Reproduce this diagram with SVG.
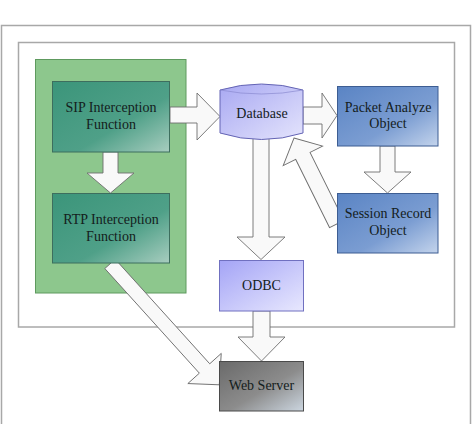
<svg xmlns="http://www.w3.org/2000/svg" width="474" height="424" viewBox="0 0 474 424">
<style>
.frame{fill:none;stroke:#a8a8a8;stroke-width:1.5}
.arrow{fill:#f9f9f9;stroke:#6e6e6e;stroke-width:0.9;stroke-linejoin:miter}
.lbl{font-family:"Liberation Serif","Times New Roman",serif;font-size:14px;fill:#14201c;text-anchor:middle}
.green{fill:url(#gTeal);stroke:#3d6e5e;stroke-width:1}
.blue{fill:url(#gBlue);stroke:#3d5d92;stroke-width:1}
</style>
<defs>
<linearGradient id="gTeal" x1="0" y1="0" x2="1" y2="1">
<stop offset="0" stop-color="#3b957a"/>
<stop offset="0.6" stop-color="#4fa088"/>
<stop offset="1" stop-color="#a8cdbf"/>
</linearGradient>
<linearGradient id="gBlue" x1="0" y1="0" x2="1" y2="1">
<stop offset="0" stop-color="#5a84c4"/>
<stop offset="0.6" stop-color="#7b9dd2"/>
<stop offset="1" stop-color="#c4d4ec"/>
</linearGradient>
<linearGradient id="gLav" x1="0" y1="0" x2="1" y2="1">
<stop offset="0" stop-color="#a8a8f2"/>
<stop offset="1" stop-color="#e4e4fc"/>
</linearGradient>
<linearGradient id="gOdbc" x1="0" y1="0" x2="1" y2="1">
<stop offset="0" stop-color="#a4a4f6"/>
<stop offset="1" stop-color="#e8e8fe"/>
</linearGradient>
<linearGradient id="gGray" x1="0" y1="0" x2="1" y2="1">
<stop offset="0" stop-color="#6a6a6a"/>
<stop offset="0.55" stop-color="#8c8c8c"/>
<stop offset="1" stop-color="#ccd6e0"/>
</linearGradient>
</defs>
<rect x="0" y="0" width="474" height="424" fill="#ffffff"/>
<path class="frame" d="M1.5,430 V25.5 H470.5 V430"/>
<rect class="frame" x="18.5" y="42.5" width="436" height="284.5"/>
<g id="container">
<rect x="35.5" y="59.5" width="150.5" height="233.5" fill="#8dc78d" stroke="#5e9a5e" stroke-width="1"/>
</g>
<g id="connectors">
<polygon class="arrow" points="170,107 197,107 197,93 220,116.5 197,140 197,123 170,123"/>
<polygon class="arrow" points="103,152 118,152 118,173 134,173 110.5,193 87,173 103,173"/>
<polygon class="arrow" points="303,107 322,107 322,93 337,115.5 322,138 322,124 303,124"/>
<polygon class="arrow" points="253,136 269,136 269,237 285,237 261,259.5 237,237 253,237"/>
<polygon class="arrow" points="380,146 395,146 395,172 411,172 387.5,193 364,172 380,172"/>
<polygon class="arrow" points="253,311 270,311 270,337 285,337 261.5,361 238,337 253,337"/>
<g transform="translate(294,138) rotate(-26.4)">
<polygon class="arrow" points="0,0 22,20 8,20 8,96 -8,96 -8,20 -22,20"/>
</g>
<g transform="translate(219.3,384.8) rotate(137.9)">
<polygon class="arrow" points="0,0 22.5,22 7,22 7,163 -7,163 -7,22 -22.5,22"/>
</g>
</g>
<g id="sip">
<rect class="green" x="52.5" y="81.5" width="117" height="70.5"/>
<text class="lbl" x="111" y="112">SIP Interception</text>
<text class="lbl" x="111" y="129">Function</text>
</g>
<g id="rtp">
<rect class="green" x="52.5" y="193.5" width="117" height="69.5"/>
<text class="lbl" x="111" y="224">RTP Interception</text>
<text class="lbl" x="111" y="241">Function</text>
</g>
<g id="database">
<path d="M220,90 Q261.5,78 303,90 V133 Q261.5,146 220,133 Z" fill="url(#gLav)" stroke="#6464b4" stroke-width="1"/>
<path d="M220,90 Q261.5,98 303,90" fill="none" stroke="#8a8ad0" stroke-width="0.7"/>
<text class="lbl" x="262" y="118">Database</text>
</g>
<g id="packet">
<rect class="blue" x="337.5" y="86.5" width="100.5" height="59.5"/>
<text class="lbl" x="388" y="112">Packet Analyze</text>
<text class="lbl" x="388" y="128">Object</text>
</g>
<g id="session">
<rect class="blue" x="337.5" y="193.5" width="100.5" height="59.5"/>
<text class="lbl" x="388" y="218">Session Record</text>
<text class="lbl" x="388" y="235">Object</text>
</g>
<g id="odbc">
<rect x="219.5" y="260.5" width="84" height="50.5" fill="url(#gOdbc)" stroke="#7070c0" stroke-width="1"/>
<text class="lbl" x="261.5" y="290">ODBC</text>
</g>
<g id="webserver">
<rect x="219.5" y="361.5" width="84" height="49.5" fill="url(#gGray)" stroke="#4a4a4a" stroke-width="1"/>
<text class="lbl" x="261.5" y="390">Web Server</text>
</g>
</svg>
